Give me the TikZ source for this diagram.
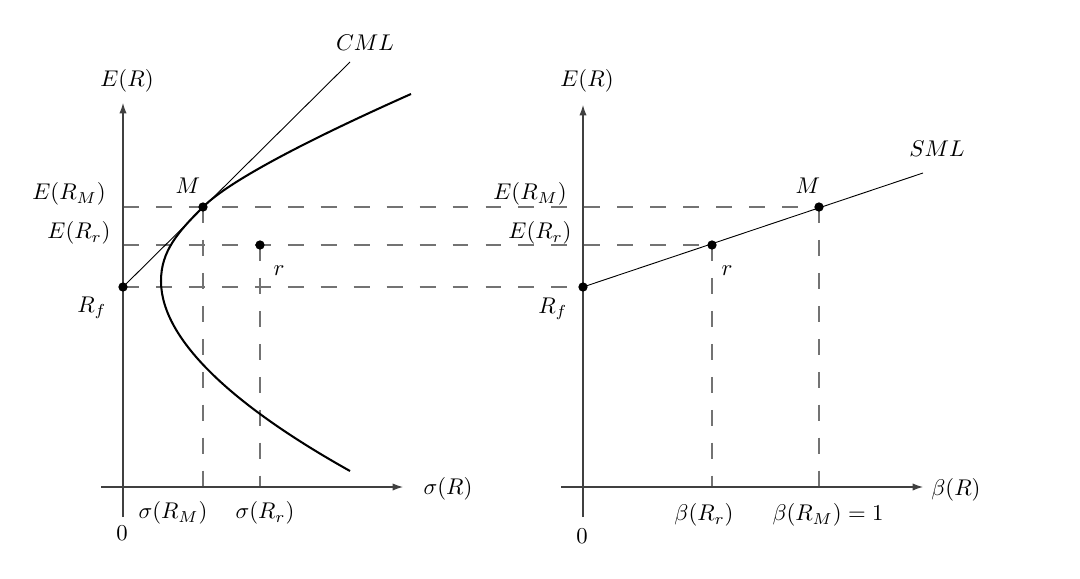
\documentclass[tikz,border=0pt]{standalone}
\usetikzlibrary{arrows.meta}
\begin{document}
\begin{tikzpicture}[x=0.44pt,y=-0.44pt,
  axisline/.style={draw=black!75, line width=0.45pt, -{Latex[length=4.6pt,width=3.2pt]}},
  dashline/.style={draw=black!55, line width=0.45pt, dash pattern=on 7pt off 7.5pt},
  thinline/.style={draw=black, line width=0.4pt},
  curveline/.style={draw=black, line width=0.9pt},
  dot/.style={circle, fill=black, inner sep=0pt, minimum size=4.1pt},
  lbl/.style={inner sep=0pt}]
\useasboundingbox (0,0) rectangle (1080,579);
% ---- coordinates, left panel
\coordinate (LyB) at (123,517);
\coordinate (LyT) at (123,103);
\coordinate (LxL) at (101,487);
\coordinate (LxR) at (403,487);
\coordinate (Rf1) at (123,287);
\coordinate (M1) at (203,207);
\coordinate (r1) at (260,245);
\coordinate (Er1) at (123,245);
\coordinate (EM1) at (123,207);
\coordinate (M1x) at (203,487);
\coordinate (r1x) at (260,487);
\coordinate (CMLend) at (350,62);
\coordinate (Vtx) at (161,281);
\coordinate (Cbot) at (350,471);
\coordinate (Ctop) at (411,94);
% ---- coordinates, right panel
\coordinate (RyB) at (583,517);
\coordinate (RyT) at (583,105);
\coordinate (RxL) at (561,487);
\coordinate (RxR) at (923,487);
\coordinate (Rf2) at (583,287);
\coordinate (M2) at (819,207);
\coordinate (r2) at (712,245);
\coordinate (M2x) at (819,487);
\coordinate (r2x) at (712,487);
\coordinate (SMLend) at (923,173);
% ---- dashed guides
\draw[dashline] (EM1) -- (M2);
\draw[dashline] (Er1) -- (r2);
\draw[dashline] (Rf1) -- (Rf2);
\draw[dashline] (M1) -- (M1x);
\draw[dashline] (r1) -- (r1x);
\draw[dashline] (r2) -- (r2x);
\draw[dashline] (M2) -- (M2x);
% ---- axes
\draw[axisline] (LyB) -- (LyT);
\draw[axisline] (LxL) -- (LxR);
\draw[axisline] (RyB) -- (RyT);
\draw[axisline] (RxL) -- (RxR);
% ---- lines
\draw[thinline] (Rf1) -- (CMLend);
\draw[thinline] (Rf2) -- (SMLend);
\draw[curveline] (Cbot) .. controls (236.6,407.6) and (161,341) .. (Vtx)
  .. controls (161,251) and (178,232) .. (M1)
  .. controls (233,177) and (328.8,130.6) .. (Ctop);
% ---- dots
\node[dot] (Rf1dot) at (Rf1) {};
\node[dot] (M1dot) at (M1) {};
\node[dot] (r1dot) at (r1) {};
\node[dot] (Rf2dot) at (Rf2) {};
\node[dot] (M2dot) at (M2) {};
\node[dot] (r2dot) at (r2) {};
% ---- labels, left
\node[lbl] (lER) at (127,81) {$E(R)$};
\node[lbl] (lCML) at (365,43) {$CML$};
\node[lbl] (lsR) at (448,489) {$\sigma(R)$};
\node[lbl] (l0a) at (122,533) {$0$};
\node[lbl] (lsRM) at (173,513) {$\sigma(R_M)$};
\node[lbl] (lsRr) at (265,513) {$\sigma(R_r)$};
\node[lbl] (lERM1) at (69,194) {$E(R_M)$};
\node[lbl] (lERr1) at (79,233) {$E(R_r)$};
\node[lbl] (lM1) at (188,186) {$M$};
\node[lbl] (lr1) at (279,271) {$r$};
\node[lbl] (lRf1) at (92,308) {$R_f$};
% ---- labels, right
\node[lbl] (rER) at (587,81) {$E(R)$};
\node[lbl] (rSML) at (937,149) {$SML$};
\node[lbl] (rbR) at (956,490) {$\beta(R)$};
\node[lbl] (r0a) at (582,536) {$0$};
\node[lbl] (rbRr) at (704,515) {$\beta(R_r)$};
\node[lbl] (rbRM) at (828,515) {$\beta(R_M)=1$};
\node[lbl] (rERM) at (530,194) {$E(R_M)$};
\node[lbl] (rERr) at (540,233) {$E(R_r)$};
\node[lbl] (rM2) at (808,186) {$M$};
\node[lbl] (rr2) at (727,271) {$r$};
\node[lbl] (rRf2) at (553,309) {$R_f$};
\end{tikzpicture}
\end{document}
